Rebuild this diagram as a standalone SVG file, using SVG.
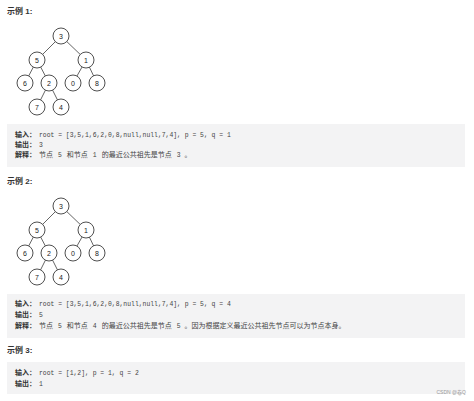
<svg xmlns="http://www.w3.org/2000/svg" width="474" height="401" viewBox="0 0 474 401">
<style>
.t{font-family:"Liberation Sans","Noto Sans CJK SC",sans-serif;font-size:8px;font-weight:bold;fill:#333}
.box{fill:#f3f3f4}
.lb{font-family:"Liberation Sans","Noto Sans CJK SC",sans-serif;font-size:7px;font-weight:bold;fill:#333}
.cd{font-family:"Liberation Mono","Noto Sans CJK SC",monospace;font-size:6.4px;fill:#444}
.cn{font-family:"Noto Sans CJK SC",sans-serif;font-size:7px;fill:#444}
.n circle{fill:#fff;stroke:#222;stroke-width:0.8}
.n text{font-family:"Liberation Sans",sans-serif;font-size:7px;fill:#222;text-anchor:middle}
.e line{stroke:#222;stroke-width:0.7}
</style>
<rect width="474" height="401" fill="#fff"/>
<text class="t" x="7" y="14">示例 1:</text>
<g id="tree1">
<g class="e" id="edges1">
<line x1="61" y1="36" x2="37" y2="60"/><line x1="61" y1="36" x2="86" y2="60"/>
<line x1="37" y1="60" x2="25" y2="83"/><line x1="37" y1="60" x2="49" y2="83"/>
<line x1="86" y1="60" x2="73" y2="83"/><line x1="86" y1="60" x2="97" y2="83"/>
<line x1="49" y1="83" x2="37" y2="107"/><line x1="49" y1="83" x2="61" y2="107"/>
</g>
<g class="n" id="t1n3"><circle cx="61" cy="36" r="8"/><text x="61" y="38.5">3</text></g>
<g class="n" id="t1n5"><circle cx="37" cy="60" r="8"/><text x="37" y="62.5">5</text></g>
<g class="n" id="t1n1"><circle cx="86" cy="60" r="8"/><text x="86" y="62.5">1</text></g>
<g class="n" id="t1n6"><circle cx="25" cy="83" r="8"/><text x="25" y="85.5">6</text></g>
<g class="n" id="t1n2"><circle cx="49" cy="83" r="8"/><text x="49" y="85.5">2</text></g>
<g class="n" id="t1n0"><circle cx="73" cy="83" r="8"/><text x="73" y="85.5">0</text></g>
<g class="n" id="t1n8"><circle cx="97" cy="83" r="8"/><text x="97" y="85.5">8</text></g>
<g class="n" id="t1n7"><circle cx="37" cy="107" r="8"/><text x="37" y="109.5">7</text></g>
<g class="n" id="t1n4"><circle cx="61" cy="107" r="8"/><text x="61" y="109.5">4</text></g>
</g>
<rect class="box" x="7" y="124" width="458" height="43"/>
<text x="15" y="137"><tspan class="lb">输入：</tspan><tspan class="cd" x="39">root = [3,5,1,6,2,0,8,null,null,7,4], p = 5, q = 1</tspan></text>
<text x="15" y="147"><tspan class="lb">输出：</tspan><tspan class="cd" x="39">3</tspan></text>
<text x="15" y="157" xml:space="preserve"><tspan class="lb">解释：</tspan><tspan class="cn" x="39">节点</tspan><tspan class="cd" dx="5">5</tspan><tspan class="cn" dx="5">和节点</tspan><tspan class="cd" dx="5">1</tspan><tspan class="cn" dx="5">的最近公共祖先是节点</tspan><tspan class="cd" dx="5">3</tspan><tspan class="cn" dx="4">。</tspan></text>

<text class="t" x="7" y="184">示例 2:</text>
<g id="tree2" transform="translate(0,170)">
<g class="e" id="edges2">
<line x1="61" y1="36" x2="37" y2="60"/><line x1="61" y1="36" x2="86" y2="60"/>
<line x1="37" y1="60" x2="25" y2="83"/><line x1="37" y1="60" x2="49" y2="83"/>
<line x1="86" y1="60" x2="73" y2="83"/><line x1="86" y1="60" x2="97" y2="83"/>
<line x1="49" y1="83" x2="37" y2="107"/><line x1="49" y1="83" x2="61" y2="107"/>
</g>
<g class="n" id="t2n3"><circle cx="61" cy="36" r="8"/><text x="61" y="38.5">3</text></g>
<g class="n" id="t2n5"><circle cx="37" cy="60" r="8"/><text x="37" y="62.5">5</text></g>
<g class="n" id="t2n1"><circle cx="86" cy="60" r="8"/><text x="86" y="62.5">1</text></g>
<g class="n" id="t2n6"><circle cx="25" cy="83" r="8"/><text x="25" y="85.5">6</text></g>
<g class="n" id="t2n2"><circle cx="49" cy="83" r="8"/><text x="49" y="85.5">2</text></g>
<g class="n" id="t2n0"><circle cx="73" cy="83" r="8"/><text x="73" y="85.5">0</text></g>
<g class="n" id="t2n8"><circle cx="97" cy="83" r="8"/><text x="97" y="85.5">8</text></g>
<g class="n" id="t2n7"><circle cx="37" cy="107" r="8"/><text x="37" y="109.5">7</text></g>
<g class="n" id="t2n4"><circle cx="61" cy="107" r="8"/><text x="61" y="109.5">4</text></g>
</g>
<rect class="box" x="7" y="294" width="458" height="44"/>
<text x="15" y="306"><tspan class="lb">输入：</tspan><tspan class="cd" x="39">root = [3,5,1,6,2,0,8,null,null,7,4], p = 5, q = 4</tspan></text>
<text x="15" y="317"><tspan class="lb">输出：</tspan><tspan class="cd" x="39">5</tspan></text>
<text x="15" y="328" xml:space="preserve"><tspan class="lb">解释：</tspan><tspan class="cn" x="39">节点</tspan><tspan class="cd" dx="5">5</tspan><tspan class="cn" dx="5">和节点</tspan><tspan class="cd" dx="5">4</tspan><tspan class="cn" dx="5">的最近公共祖先是节点</tspan><tspan class="cd" dx="5">5</tspan><tspan class="cn" dx="4">。因为根据定义最近公共祖先节点可以为节点本身。</tspan></text>

<text class="t" x="7" y="353">示例 3:</text>
<rect class="box" x="7" y="362" width="458" height="32"/>
<text x="15" y="375"><tspan class="lb">输入：</tspan><tspan class="cd" x="39">root = [1,2], p = 1, q = 2</tspan></text>
<text x="15" y="386"><tspan class="lb">输出：</tspan><tspan class="cd" x="39">1</tspan></text>
<text x="466" y="394" text-anchor="end" style="font-family:'Liberation Sans','Noto Sans CJK SC',sans-serif;font-size:5px;fill:#999">CSDN @卷Q</text>
</svg>
